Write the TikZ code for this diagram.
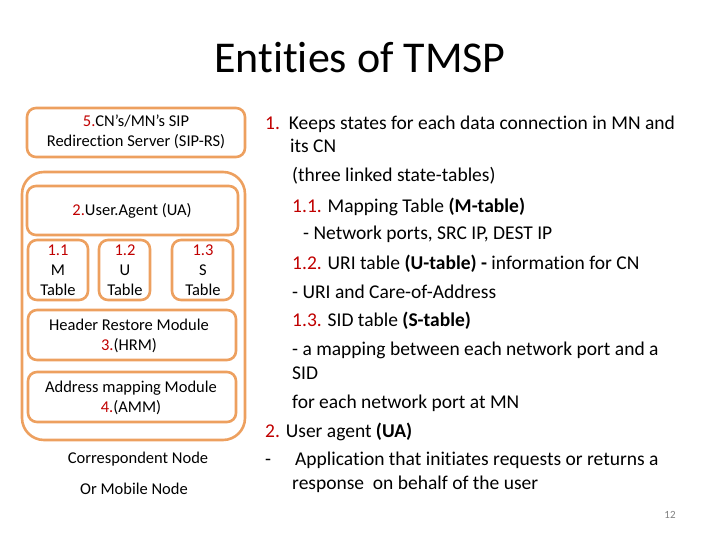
\documentclass[tikz,border=0pt]{standalone}
\usepackage{fontspec}
\setmainfont[RawFeature=-liga]{Carlito}
\definecolor{org}{RGB}{237,160,95}
\definecolor{dred}{RGB}{192,0,0}
\begin{document}
\begin{tikzpicture}[x=1pt,y=-1pt,
  box/.style={draw=org,line width=2.6pt,rounded corners=9pt},
  lbl/.style={font=\fontsize{16.5}{20}\selectfont,align=center,inner sep=0},
  rt/.style={anchor=base west,font=\fontsize{19.5}{22}\selectfont,inner sep=0}]
\useasboundingbox (0,0) rectangle (720,540);
\node[font=\fontsize{44}{48}\selectfont] (title) at (360,58) {Entities of TMSP};
\draw[box] (27,108) rectangle (245,157);
\node[lbl] (rs) at (136,132) {\textcolor{dred}{5.}CN’s/MN’s SIP\\Redirection Server (SIP-RS)};
\draw[box,rounded corners=22pt] (22,172) rectangle (245,440);
\draw[box] (27,186) rectangle (238,235);
\node[lbl] (ua) at (132,211) {\textcolor{dred}{2.}User.Agent (UA)};
\draw[box] (28,240) rectangle (88,300);
\node[lbl,align=center] (mt) at (58,270) {\textcolor{dred}{1.1}\\M\\Table};
\draw[box] (99,240) rectangle (150,300);
\node[lbl] (ut) at (125,270) {\textcolor{dred}{1.2}\\U\\Table};
\draw[box] (172,240) rectangle (233,300);
\node[lbl] (st) at (203,270) {\textcolor{dred}{1.3}\\S\\Table};
\draw[box] (28,310) rectangle (236,360);
\node[lbl] (hrm) at (129,336) {Header Restore Module\\\textcolor{dred}{3.}(HRM)};
\draw[box] (28,372) rectangle (236,422);
\node[lbl] (amm) at (131,398) {Address mapping Module\\\textcolor{dred}{4.}(AMM)};
\node[lbl] (cn) at (138,459) {Correspondent Node};
\node[lbl] (mn) at (134,489) {Or Mobile Node};
\node[rt] (l1) at (265,130) {\textcolor{dred}{1.}\ \ Keeps states for each data connection in MN and};
\node[rt] (l2) at (290,153) {its CN};
\node[rt] (l3) at (292,182) {(three linked state-tables)};
\node[rt] (l4) at (292,212) {\textcolor{dred}{1.1.} Mapping Table \textbf{(M-table)}};
\node[rt] (l5) at (303,240) {- Network ports, SRC IP, DEST IP};
\node[rt] (l6) at (292,269) {\textcolor{dred}{1.2.} URI table \textbf{(U-table) -} information for CN};
\node[rt] (l7) at (292,298) {- URI and Care-of-Address};
\node[rt] (l8) at (292,326) {\textcolor{dred}{1.3.} SID table \textbf{(S-table)}};
\node[rt] (l9) at (292,355) {- a mapping between each network port and a};
\node[rt] (l10) at (292,379) {SID};
\node[rt] (l11) at (292,408) {for each network port at MN};
\node[rt] (l12) at (265,437) {\textcolor{dred}{2.} User agent \textbf{(UA)}};
\node[rt] (l13) at (265,465) {-\quad\ Application that initiates requests or returns a};
\node[rt] (l14) at (292,489) {response\ \ on behalf of the user};
\node[font=\fontsize{11}{13}\selectfont,text=gray] (pg) at (670,515) {12};
\end{tikzpicture}
\end{document}
